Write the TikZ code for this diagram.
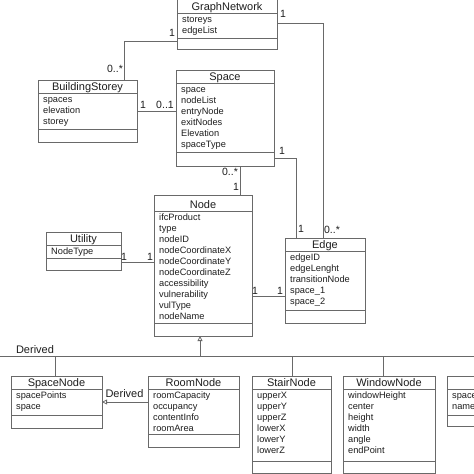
\documentclass[tikz,border=0pt]{standalone}
\usepackage{fontspec}
\setmainfont{Liberation Sans}
\usetikzlibrary{arrows.meta}
\definecolor{lc}{RGB}{105,105,105}
\definecolor{tc}{RGB}{30,30,30}
\tikzset{
  cls/.style={draw=lc, line width=0.8pt, rectangle, inner sep=0pt, outer sep=0pt, fill=none},
  ln/.style={draw=lc, line width=0.8pt},
  ttl/.style={inner sep=0pt, text=tc, font=\fontsize{11}{13}\selectfont},
  attr/.style={inner sep=0pt, text=tc, font=\fontsize{9.25}{11}\selectfont},
  mult/.style={inner sep=0pt, text=tc, font=\fontsize{10.5}{12}\selectfont},
  inh/.style={ln, -{Triangle[open, length=5pt, width=5pt]}},
}
% name, x1, ytop, x2, ydiv1, ydiv2, ybot, title, attrs
\newcommand\umlclass[9]{%
  \node[cls, anchor=north west, minimum width={#4-#2}, minimum height={#7-#3}] (#1) at (#2,#3) {};
  \draw[ln] (#1.west |- 0,#5) -- (#1.east |- 0,#5);
  \draw[ln] (#1.west |- 0,#6) -- (#1.east |- 0,#6);
  \node[ttl, anchor=base] (#1-t) at ({(#2+#4)/2},{#5-3}) {#8};
  \foreach \a [count=\i] in {#9} \node[attr, anchor=base west] (#1-a\i) at ({#2+5},{#5+9.5+11*(\i-1)}) {\a};
}
\begin{document}
\begin{tikzpicture}[x=1pt,y=-1pt]
\useasboundingbox (0,0) rectangle (474,474);
\clip (0,0) rectangle (474,474);
\fill[white] (0,0) rectangle (474,474);

\umlclass{gn}{177}{-1}{277}{13}{38}{49}{GraphNetwork}{storeys,edgeList}
\umlclass{bs}{38}{80}{137}{93}{129}{142}{BuildingStorey}{spaces,elevation,storey}
\umlclass{sp}{176}{70}{274}{83}{152}{166}{Space}{space,nodeList,entryNode,exitNodes,Elevation,spaceType}
\umlclass{nd}{154}{195}{252}{211}{323}{336}{Node}{ifcProduct,type,nodeID,nodeCoordinateX,nodeCoordinateY,nodeCoordinateZ,accessibility,vulnerability,vulType,nodeName}
\umlclass{ut}{46}{232}{121}{245}{258}{270}{Utility}{NodeType}
\umlclass{ed}{285}{238}{365}{251}{310}{323}{Edge}{edgeID,edgeLenght,transitionNode,space\_1,space\_2}
\umlclass{sn}{11}{376}{102}{389}{415}{428}{SpaceNode}{spacePoints,space}
\umlclass{rn}{148}{376}{239}{389}{434}{447}{RoomNode}{roomCapacity,occupancy,contentInfo,roomArea}
\umlclass{stn}{252}{376}{331}{389}{461}{473.5}{StairNode}{upperX,upperY,upperZ,lowerX,lowerY,lowerZ}
\umlclass{wn}{343}{376}{435}{389}{461}{473.5}{WindowNode}{windowHeight,center,height,width,angle,endPoint}
\umlclass{xn}{447}{376}{530}{389}{415}{426}{}{space,name}

% associations
\draw[ln] (gn.west |- 0,41) -| (bs.north -| 124,0);
\node[mult] (m1) at (172,33) {1};
\node[mult] (m2) at (115,69) {0..*};

\draw[ln] (gn.east |- 0,23) -| (ed.north -| 323,0);
\node[mult] (m3) at (283,14) {1};
\node[mult] (m4) at (332,230) {0..*};

\draw[ln] (bs.east |- 0,111) -- (sp.west |- 0,111);
\node[mult] (m5) at (143,105) {1};
\node[mult] (m6) at (165,105) {0..1};

\draw[ln] (sp.east |- 0,158) -| (ed.north -| 296,0);
\node[mult] (m7) at (282,151) {1};
\node[mult] (m8) at (301,229) {1};

\draw[ln] (sp.south -| 240,0) -- (nd.north -| 240,0);
\node[mult] (m9) at (230,172) {0..*};
\node[mult] (m10) at (236,187) {1};

\draw[ln] (ut.east |- 0,262) -- (nd.west |- 0,262);
\node[mult] (m11) at (124,257) {1};
\node[mult] (m12) at (150,257) {1};

\draw[ln] (nd.east |- 0,296) -- (ed.west |- 0,296);
\node[mult] (m13) at (255,291) {1};
\node[mult] (m14) at (280,291) {1};

% generalisation
\coordinate (hub) at (200,356);
\coordinate (hl) at (0,356);
\coordinate (hr) at (474,356);
\draw[ln] (hl) -- (hr);
\draw[inh] (hub) -- (nd.south -| hub);
\draw[ln] (hl -| 55,0) -- (sn.north -| 55,0);
\draw[ln] (hl -| 292,0) -- (stn.north -| 292,0);
\draw[ln] (hl -| 383,0) -- (wn.north -| 383,0);
\node[ttl] (d1) at (35,350) {Derived};

\draw[inh] (rn.west |- 0,402) -- (sn.east |- 0,402);
\node[ttl] (d2) at (124.5,394) {Derived};
\end{tikzpicture}
\end{document}
